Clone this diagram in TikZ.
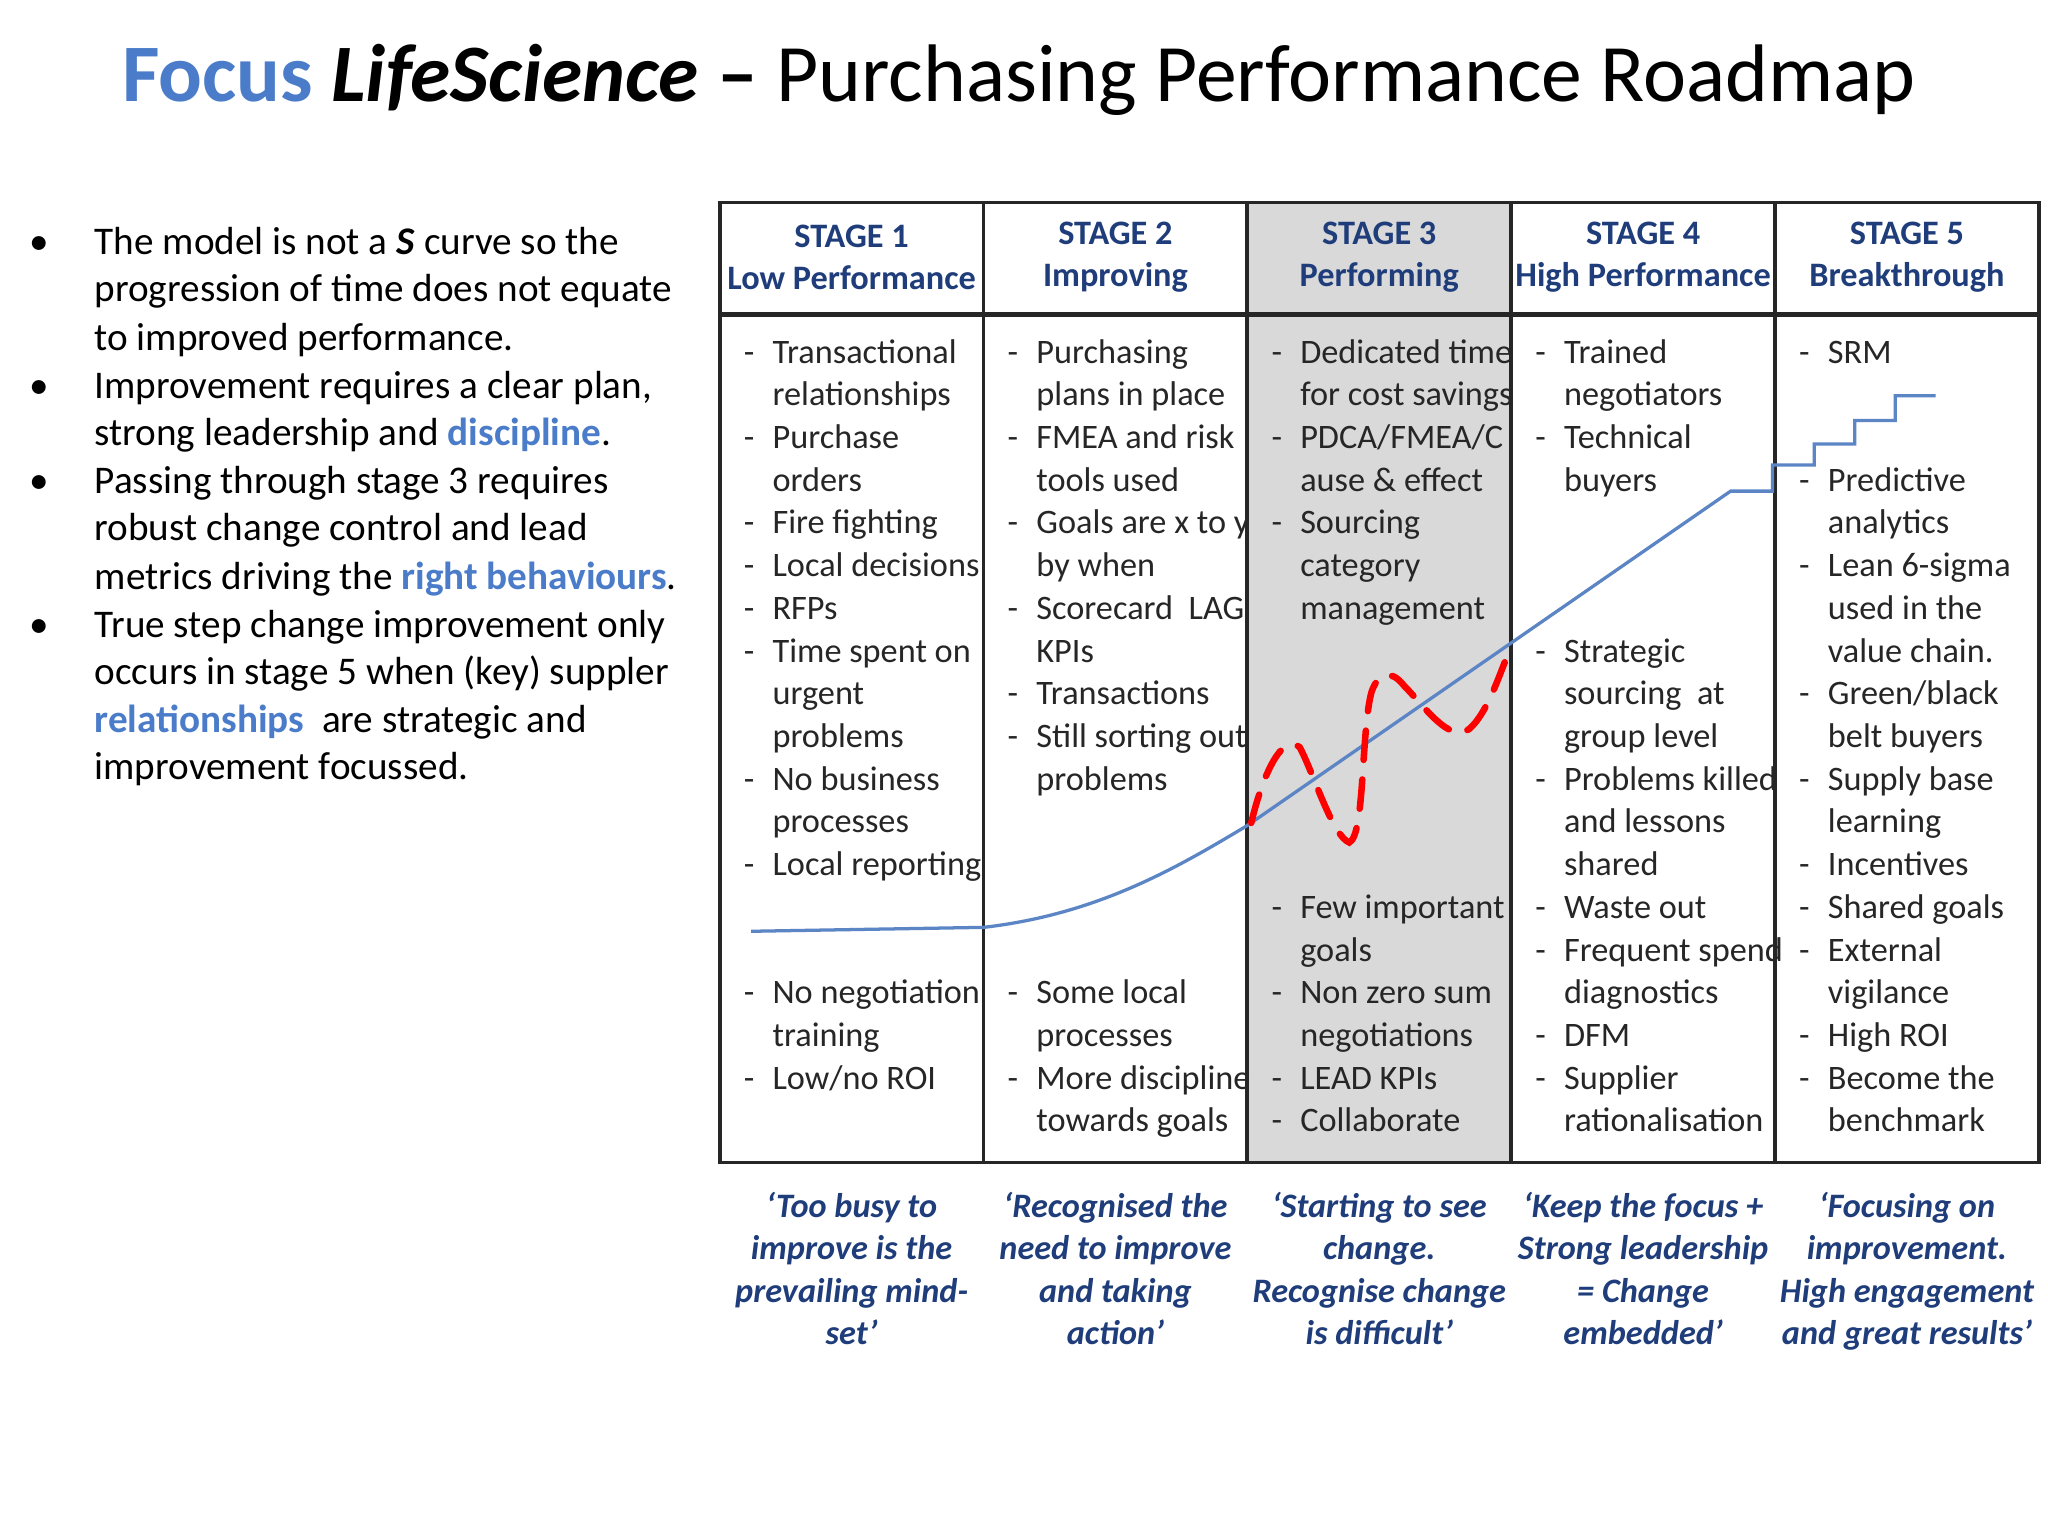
\documentclass[tikz,border=0pt]{standalone}
\usepackage{fontspec}
\setmainfont{Carlito}
\definecolor{tblue}{HTML}{4A7CC9}
\definecolor{dblue}{HTML}{1F3D7A}
\definecolor{cblue}{HTML}{5B85C5}
\definecolor{gfill}{HTML}{D9D9D9}
\newcommand{\Li}[3]{\node[item,anchor=base west] at (#1+18,{278+32.7*#2}) {-};\node[item,anchor=base west] at (#1+40,{278+32.7*#2}) {#3};}
\newcommand{\Lc}[3]{\node[item,anchor=base west] at (#1+40,{278+32.7*#2}) {#3};}
\begin{document}
\begin{tikzpicture}[x=0.4pt,y=-0.4pt,
  item/.style={inner sep=0pt,font=\fontsize{10.5}{12}\selectfont,text=black!85},
  head/.style={inner sep=0pt,font=\fontsize{10.5}{13}\selectfont\bfseries,text=dblue,align=center},
  quote/.style={inner sep=0pt,font=\fontsize{10.5}{13}\selectfont\bfseries\itshape,text=dblue,align=center},
  bul/.style={inner sep=0pt,anchor=base west,font=\fontsize{12}{14}\selectfont}]
\useasboundingbox[fill=white] (0,0) rectangle (1568,1176);
\node[anchor=base west,inner sep=0pt,font=\fontsize{25}{30}\selectfont] (title) at (93,78) {\textcolor{tblue}{\bfseries Focus} \textbf{\textit{LifeScience}} \textbf{–} Purchasing Performance Roadmap};
% left bullets
\foreach \y in {195,305,378,488} \node[bul] at (22,\y) {•};
\node[bul] at (72,195) {The model is not a \textbf{\textit{S}} curve so the};
\node[bul] at (72,231) {progression of time does not equate};
\node[bul] at (72,268) {to improved performance.};
\node[bul] at (72,305) {Improvement requires a clear plan,};
\node[bul] at (72,341) {strong leadership and \textcolor{tblue}{\bfseries discipline}.};
\node[bul] at (72,378) {Passing through stage 3 requires};
\node[bul] at (72,414) {robust change control and lead};
\node[bul] at (72,451) {metrics driving the \textcolor{tblue}{\bfseries right behaviours}.};
\node[bul] at (72,488) {True step change improvement only};
\node[bul] at (72,524) {occurs in stage 5 when (key) suppler};
\node[bul] at (72,561) {\textcolor{tblue}{\bfseries relationships}\ \ are strategic and};
\node[bul] at (72,597) {improvement focussed.};
% table
\fill[gfill] (955,155) rectangle (1157,890);
\draw[line width=1.2pt,black!85] (551,155) rectangle (1561,890);
\draw[line width=1.6pt,black!85] (551,241) -- (1561,241);
\foreach \x in {753,955,1157,1359} \draw[line width=1.2pt,black!85] (\x,155) -- (\x,890);
\node[head] (h1) at (652,197) {STAGE 1\\Low Performance};
\node[head] (h2) at (854,197) {STAGE 2\\Improving};
\node[head] (h3) at (1056,197) {STAGE 3\\Performing};
\node[head] (h4) at (1258,197) {STAGE 4\\High Performance};
\node[head] (h5) at (1460,197) {STAGE 5\\Breakthrough};
% column 1
\Li{551}{0}{Transactional}\Lc{551}{1}{relationships}\Li{551}{2}{Purchase}\Lc{551}{3}{orders}
\Li{551}{4}{Fire fighting}\Li{551}{5}{Local decisions}\Li{551}{6}{RFPs}\Li{551}{7}{Time spent on}
\Lc{551}{8}{urgent}\Lc{551}{9}{problems}\Li{551}{10}{No business}\Lc{551}{11}{processes}
\Li{551}{12}{Local reporting}\Li{551}{15}{No negotiation}\Lc{551}{16}{training}\Li{551}{17}{Low/no ROI}
% column 2
\Li{753}{0}{Purchasing}\Lc{753}{1}{plans in place}\Li{753}{2}{FMEA and risk}\Lc{753}{3}{tools used}
\Li{753}{4}{Goals are x to y}\Lc{753}{5}{by when}\Li{753}{6}{Scorecard\ \ LAG}\Lc{753}{7}{KPIs}
\Li{753}{8}{Transactions}\Li{753}{9}{Still sorting out}\Lc{753}{10}{problems}
\Li{753}{15}{Some local}\Lc{753}{16}{processes}\Li{753}{17}{More discipline}\Lc{753}{18}{towards goals}
% column 3
\Li{955}{0}{Dedicated time}\Lc{955}{1}{for cost savings}\Li{955}{2}{PDCA/FMEA/C}\Lc{955}{3}{ause \& effect}
\Li{955}{4}{Sourcing}\Lc{955}{5}{category}\Lc{955}{6}{management}
\Li{955}{13}{Few important}\Lc{955}{14}{goals}\Li{955}{15}{Non zero sum}\Lc{955}{16}{negotiations}
\Li{955}{17}{LEAD KPIs}\Li{955}{18}{Collaborate}
% column 4
\Li{1157}{0}{Trained}\Lc{1157}{1}{negotiators}\Li{1157}{2}{Technical}\Lc{1157}{3}{buyers}
\Li{1157}{7}{Strategic}\Lc{1157}{8}{sourcing\ \ at}\Lc{1157}{9}{group level}\Li{1157}{10}{Problems killed}
\Lc{1157}{11}{and lessons}\Lc{1157}{12}{shared}\Li{1157}{13}{Waste out}\Li{1157}{14}{Frequent spend}
\Lc{1157}{15}{diagnostics}\Li{1157}{16}{DFM}\Li{1157}{17}{Supplier}\Lc{1157}{18}{rationalisation}
% column 5
\Li{1359}{0}{SRM}\Li{1359}{3}{Predictive}\Lc{1359}{4}{analytics}\Li{1359}{5}{Lean 6-sigma}
\Lc{1359}{6}{used in the}\Lc{1359}{7}{value chain.}\Li{1359}{8}{Green/black}\Lc{1359}{9}{belt buyers}
\Li{1359}{10}{Supply base}\Lc{1359}{11}{learning}\Li{1359}{12}{Incentives}\Li{1359}{13}{Shared goals}
\Li{1359}{14}{External}\Lc{1359}{15}{vigilance}\Li{1359}{16}{High ROI}\Li{1359}{17}{Become the}\Lc{1359}{18}{benchmark}
% curve
\coordinate (c0) at (575,713); \coordinate (c1) at (753,710); \coordinate (c2) at (955,632);
\coordinate (c3) at (1325,376);
\draw[cblue,line width=1pt] (c0) -- (c1) .. controls (840,700) and (900,665) .. (c2) -- (c3)
  -- (1357,376) -- (1357,356) -- (1389,356) -- (1389,340) -- (1420,340) -- (1420,322) -- (1451,322) -- (1451,303) -- (1482,303);
% red dashed
\draw[red,line width=2pt,dash pattern=on 9pt off 6pt,line cap=round] (958,630) .. controls (965,600) and (980,560) .. (995,572)
  .. controls (1005,590) and (1020,640) .. (1033,645) .. controls (1045,640) and (1042,560) .. (1050,530)
  .. controls (1055,515) and (1065,512) .. (1075,525) .. controls (1090,540) and (1110,570) .. (1125,558)
  .. controls (1140,545) and (1150,510) .. (1157,495);
% quotes
\node[quote,anchor=north] (q1) at (652,912) {‘Too busy to\\improve is the\\prevailing mind-\\set’};
\node[quote,anchor=north] (q2) at (854,912) {‘Recognised the\\need to improve\\and taking\\action’};
\node[quote,anchor=north] (q3) at (1056,912) {‘Starting to see\\change.\\Recognise change\\is difficult’};
\node[quote,anchor=north] (q4) at (1258,912) {‘Keep the focus +\\Strong leadership\\= Change\\embedded’};
\node[quote,anchor=north] (q5) at (1460,912) {‘Focusing on\\improvement.\\High engagement\\and great results’};
\end{tikzpicture}
\end{document}
